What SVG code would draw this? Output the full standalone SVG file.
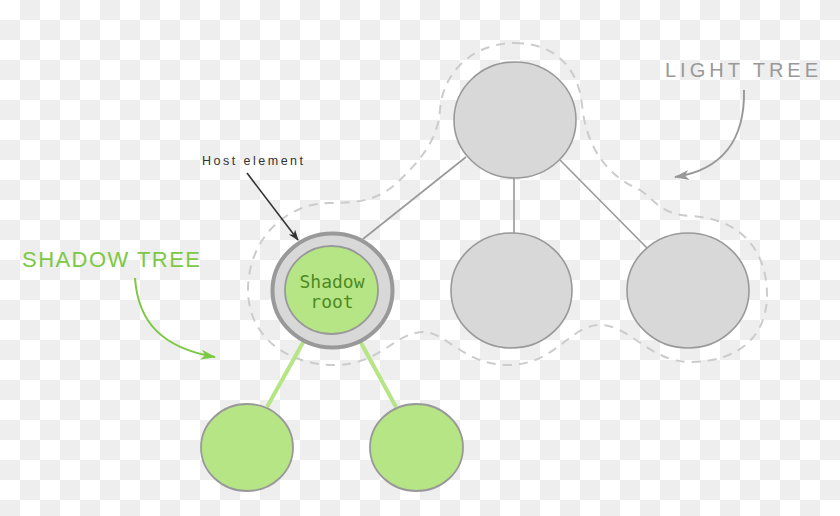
<svg xmlns="http://www.w3.org/2000/svg" width="840" height="516" viewBox="0 0 840 516">
<defs>
<pattern id="checker" width="40" height="40" patternUnits="userSpaceOnUse">
<rect width="40" height="40" fill="#ffffff"/>
<rect x="20" y="0" width="20" height="20" fill="#eeeeee"/>
<rect x="0" y="20" width="20" height="20" fill="#eeeeee"/>
</pattern>
<marker id="arrDark" markerWidth="12" markerHeight="10" refX="10" refY="4" orient="auto" markerUnits="userSpaceOnUse">
<path d="M0,0 L11,4 L0,8 L3,4 Z" fill="#333333"/>
</marker>
<marker id="arrGreen" markerWidth="16" markerHeight="12" refX="14" refY="5" orient="auto" markerUnits="userSpaceOnUse">
<path d="M0,0 L15,5 L0,10 L4,5 Z" fill="#7cc843"/>
</marker>
<marker id="arrGray" markerWidth="16" markerHeight="12" refX="14" refY="5" orient="auto" markerUnits="userSpaceOnUse">
<path d="M0,0 L15,5 L0,10 L4,5 Z" fill="#999999"/>
</marker>
</defs>
<style>
.light{fill:#d8d8d8;stroke:#999999;stroke-width:1.6}
.green{fill:#b6e585;stroke:#999999;stroke-width:1.8}
.edge{stroke:#999999;stroke-width:1.6;fill:none}
.gedge{stroke:#b6e585;stroke-width:4;fill:none}
.outline{fill:none;stroke:#cccccc;stroke-width:2;stroke-dasharray:9 7}
.hand{font-family:"Liberation Sans","DejaVu Sans",sans-serif}
.mono{font-family:"DejaVu Sans Mono","Liberation Mono",monospace;font-size:18px;fill:#4f8a1f;text-anchor:middle}
</style>
<rect width="840" height="516" fill="url(#checker)"/>

<path class="outline" d="M 515 43 C 552 43, 578 65, 582 105 C 586 145, 605 175, 640 190 C 655 200, 660 214, 690 216 C 740 218, 767 250, 767 295 C 767 335, 740 362, 690 362 C 650 362, 630 325, 600 325 C 570 325, 555 365, 508 365 C 465 365, 445 332, 424 332 C 395 332, 380 365, 335 365 C 285 365, 248 335, 248 290 C 248 240, 285 203, 330 203 C 360 203, 380 200, 400 180 C 420 160, 438 140, 440 110 C 443 70, 475 43, 515 43 Z"/>

<g id="connectors">
<line class="edge" x1="466" y1="157" x2="363" y2="239"/>
<line class="edge" x1="514" y1="178" x2="514" y2="233"/>
<line class="edge" x1="560" y1="160" x2="647" y2="248"/>
<line class="gedge" x1="310" y1="330" x2="267" y2="407"/>
<line class="gedge" x1="354" y1="330" x2="396" y2="407"/>
</g>

<g id="node-top"><ellipse class="light" cx="515" cy="120" rx="61" ry="58"/></g>
<g id="node-middle"><ellipse class="light" cx="511.5" cy="290.5" rx="60.5" ry="57.5"/></g>
<g id="node-right"><ellipse class="light" cx="688" cy="290.5" rx="61" ry="57.5"/></g>
<g id="node-host">
<ellipse cx="332.5" cy="290.5" rx="60" ry="57" fill="#d8d8d8" stroke="#999999" stroke-width="4"/>
<ellipse class="green" cx="331.5" cy="290" rx="46.5" ry="44"/>
<text class="mono" x="332" y="288">Shadow</text>
<text class="mono" x="332" y="308">root</text>
</g>
<g id="node-child-left"><ellipse class="green" cx="247" cy="447.5" rx="46" ry="43.5"/></g>
<g id="node-child-right"><ellipse class="green" cx="416.5" cy="447.5" rx="46.5" ry="43.5"/></g>

<g id="label-host">
<text class="hand" x="202" y="165" font-size="12.5" fill="#333333" textLength="101" lengthAdjust="spacing">Host element</text>
<path d="M 247 173 L 298 240" stroke="#333333" stroke-width="1.6" fill="none" marker-end="url(#arrDark)"/>
</g>
<g id="label-shadow-tree">
<text class="hand" x="22" y="267" font-size="22" fill="#7cc843" textLength="178" lengthAdjust="spacing">SHADOW TREE</text>
<path d="M 135 278 C 138 322, 162 348, 215 357" stroke="#7cc843" stroke-width="2" fill="none" marker-end="url(#arrGreen)"/>
</g>
<g id="label-light-tree">
<text class="hand" x="665" y="77" font-size="20" fill="#999999" textLength="153" lengthAdjust="spacing">LIGHT TREE</text>
<path d="M 744 90 C 745 140, 722 170, 675 177" stroke="#999999" stroke-width="2" fill="none" marker-end="url(#arrGray)"/>
</g>
</svg>
